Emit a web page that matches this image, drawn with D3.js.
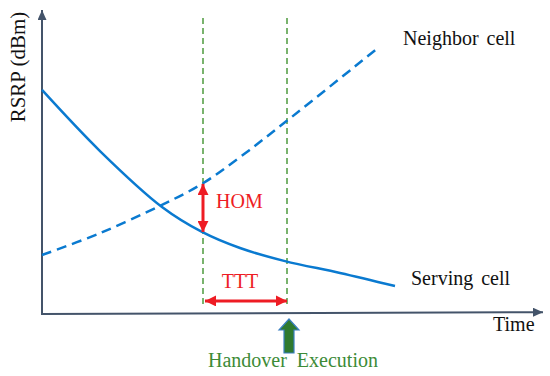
<!DOCTYPE html>
<html>
<head>
<meta charset="utf-8">
<script src="https://cdn.jsdelivr.net/npm/d3@7"></script>
<style>
  html, body { margin: 0; padding: 0; background: #fff; }
  svg { display: block; }
  text { font-family: "Liberation Serif", "DejaVu Serif", serif; }
</style>
</head>
<body>
<svg id="chart" width="550" height="376"></svg>
<script>
// ---- data (time in arbitrary units 0..100, RSRP in arbitrary units 0..100) ----
const servingTime  = [0, 11.6, 24, 32, 39.6, 48.6, 59.6, 70.6];
const servingRSRP  = [73.7, 53.6, 35.2, 27.0, 21.7, 17.4, 13.5, 9.2];
const neighborTime = [0, 11.6, 24, 32, 39.6, 48.4, 67.4];
const neighborRSRP = [19.4, 26.6, 35.9, 42.8, 51.6, 62.8, 87.8];
const markerTimes  = [32.2, 49];            // HOM trigger, handover execution
const markerRange  = [2, 97.4];
const homTime = 32.2, homRange = [42.8, 27.0];
const tttLevel = 4.3, tttRange = [32.6, 49];
const labels = { y: "RSRP (dBm)", x: "Time", neighbor: "Neighbor cell", serving: "Serving cell",
                 hom: "HOM", ttt: "TTT", ho: "Handover Execution" };

const svg = d3.select("#chart");
const x = d3.scaleLinear().domain([0, 100]).range([42, 542]);
const y = d3.scaleLinear().domain([0, 100]).range([314, 10]);

const axisColor = "#44546a", blue = "#0a7ad0", red = "#ee1c24", green = "#4e9a3e";

const defs = svg.append("defs");
function marker(id, color, w, h) {
  defs.append("marker").attr("id", id)
    .attr("markerUnits", "userSpaceOnUse")
    .attr("viewBox", `0 0 ${h} ${w}`).attr("refX", h).attr("refY", w / 2)
    .attr("markerWidth", h).attr("markerHeight", w).attr("orient", "auto-start-reverse")
    .append("path").attr("d", `M0,0L${h},${w / 2}L0,${w}Z`).attr("fill", color);
}
marker("axArrow", axisColor, 9, 10);
marker("redArrow", red, 11, 11);

// axes
svg.append("line").attr("x1", x(0)).attr("y1", y(0)).attr("x2", x(0)).attr("y2", y(100))
  .attr("stroke", axisColor).attr("stroke-width", 2).attr("marker-end", "url(#axArrow)");
svg.append("line").attr("x1", x(0) - 1).attr("y1", y(0)).attr("x2", x(100.2)).attr("y2", y(0.6))
  .attr("stroke", axisColor).attr("stroke-width", 2).attr("marker-end", "url(#axArrow)");

// green dashed markers
svg.selectAll(".vmark").data(markerTimes).join("line")
  .attr("x1", d => x(d)).attr("x2", d => x(d))
  .attr("y1", y(markerRange[1])).attr("y2", y(markerRange[0]))
  .attr("stroke", green).attr("stroke-width", 1.5).attr("stroke-dasharray", "6,4");

// curves
const line = d3.line().x(d => x(d[0])).y(d => y(d[1])).curve(d3.curveCatmullRom.alpha(0.5));
svg.append("path").datum(d3.zip(servingTime, servingRSRP)).attr("d", line)
  .attr("fill", "none").attr("stroke", blue).attr("stroke-width", 2.5);
svg.append("path").datum(d3.zip(neighborTime, neighborRSRP)).attr("d", line)
  .attr("fill", "none").attr("stroke", blue).attr("stroke-width", 2.5)
  .attr("stroke-dasharray", "10,6");

// HOM arrow
svg.append("line").attr("x1", x(homTime)).attr("x2", x(homTime))
  .attr("y1", y(homRange[0])).attr("y2", y(homRange[1]))
  .attr("stroke", red).attr("stroke-width", 3)
  .attr("marker-start", "url(#redArrow)").attr("marker-end", "url(#redArrow)");
// TTT arrow
svg.append("line").attr("x1", x(tttRange[0])).attr("x2", x(tttRange[1]))
  .attr("y1", y(tttLevel)).attr("y2", y(tttLevel))
  .attr("stroke", red).attr("stroke-width", 3)
  .attr("marker-start", "url(#redArrow)").attr("marker-end", "url(#redArrow)");

// handover execution arrow (block arrow)
const hx = x(49.4);
svg.append("path")
  .attr("d", `M${hx},319 L${hx + 10},330 L${hx + 5},330 L${hx + 5},353 L${hx - 5},353 L${hx - 5},330 L${hx - 10},330 Z`)
  .attr("fill", "#2f7a2f").attr("stroke", "#3a7fc1").attr("stroke-width", 1.2);

// texts
const fs = 20;
svg.append("text").attr("transform", "translate(25,67) rotate(-90)")
  .attr("text-anchor", "middle").attr("font-size", 21).attr("fill", "#111").text(labels.y);
svg.append("text").attr("x", 493).attr("y", 331).attr("font-size", fs).attr("fill", "#111").text(labels.x);
svg.append("text").attr("x", 403).attr("y", 45).attr("font-size", fs).attr("fill", "#111")
  .attr("word-spacing", 3).text(labels.neighbor);
svg.append("text").attr("x", 411).attr("y", 285).attr("font-size", fs).attr("fill", "#111")
  .attr("word-spacing", 3).text(labels.serving);
svg.append("text").attr("x", 216).attr("y", 208).attr("font-size", fs).attr("fill", red).text(labels.hom);
svg.append("text").attr("x", 240).attr("y", 288).attr("text-anchor", "middle")
  .attr("font-size", fs).attr("fill", red).text(labels.ttt);
svg.append("text").attr("x", 208).attr("y", 367).attr("font-size", fs).attr("fill", "#3d8b37")
  .attr("word-spacing", 5).text(labels.ho);
</script>
</body>
</html>
